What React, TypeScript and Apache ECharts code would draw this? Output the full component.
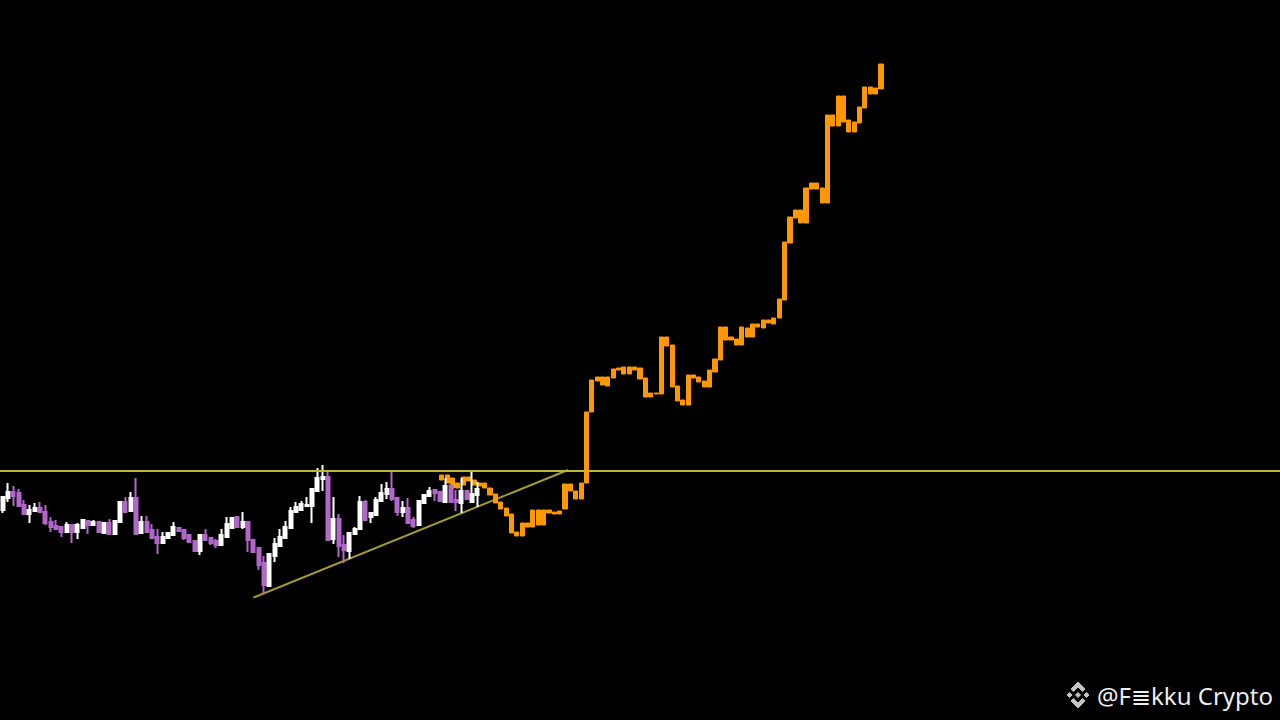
import React, { useEffect, useRef } from "react";
import * as echarts from "echarts";

const barCount = 240;
const projectionBarCount = 239;
const orangeStart = 82;
const resistance = 249.5;
const trendStart = [47, 122.4];
const trendEnd = [106, 250];

const candleOpen = [210,222,228,227,215,206,209,212,208,198,194,193,188,195,188,192,199,195,198,187,197,186,198,218,209,222,187,198,190,183,177,182,185,192,190,185,179,169,185,182,179,175,183,192,203,193,198,180,172,157,134,164,174,182,192,208,210,214,214,229,241,243,181,201,175,169,186,191,218,203,205,219,226,231,222,208,212,200,195,217,224,230,228,218,234,220,217,229,218,225];
const candleClose = [223,228,224,214,206,210,212,208,197,193,191,188,195,188,195,200,195,198,188,197,186,199,218,208,222,186,198,188,182,177,183,187,193,189,182,178,169,185,180,177,175,185,196,202,193,198,180,168,155,135,166,176,183,193,209,213,216,215,231,242,243,180,201,174,170,187,191,218,200,207,220,227,231,221,208,212,197,194,219,225,229,227,219,234,218,218,229,221,226,231];
const candleLow = [207,218,214,213,205,197,208,207,195,188,190,183,188,177,181,192,186,194,188,186,185,186,198,208,209,185,186,188,182,166,177,181,184,189,180,177,169,165,179,175,172,174,183,191,193,191,168,168,150,127,134,158,174,182,192,208,209,213,197,228,229,179,176,163,157,161,185,190,199,197,205,218,221,219,204,203,197,192,195,216,223,219,219,218,218,209,207,220,218,213];
const candleHigh = [223,237,234,231,220,215,217,218,215,203,200,193,198,195,197,201,199,200,199,198,201,199,218,223,228,242,204,204,196,191,188,188,198,192,191,186,179,185,191,183,181,191,203,203,203,208,198,181,173,164,166,182,191,199,213,218,219,223,231,252,255,250,223,206,185,187,193,224,220,207,223,236,238,248,222,219,222,203,219,225,233,231,228,242,237,230,242,230,248,238];

const orangeLow = [240,237,232,232,235,239,235,234,232,225,217,211,204,187,184,184,193,193,195,195,207,206,206,211,229,221,221,237,308,339,335,334,342,350,346,346,350,341,323,323,326,326,374,333,319,315,315,342,338,333,333,348,360,380,380,375,375,383,383,393,392,397,396,402,420,477,502,497,497,531,531,517,517,594,594,598,588,588,597,612,626,626,631];
const orangeHigh = [245,245,242,237,243,243,240,237,237,232,226,218,212,206,188,197,197,210,210,210,210,208,209,236,236,229,237,308,340,343,343,343,351,352,353,353,353,352,342,327,327,383,383,375,334,320,345,345,343,339,350,361,393,393,383,381,393,392,396,396,400,400,402,421,478,503,510,510,532,537,537,532,605,605,624,624,600,598,613,633,633,632,656];

const categories = Array.from({ length: barCount }, (_, i) => String(i));
const projectionCategories = Array.from({ length: projectionBarCount }, (_, i) => String(i));
const blank = ["-", "-", "-", "-"];

const candleData = candleOpen.map((o, i) => [o, candleClose[i], candleLow[i], candleHigh[i]]);
const orangeData = [
  ...Array.from({ length: orangeStart }, () => blank),
  ...orangeLow.map((l, i) => [l, orangeHigh[i], l, orangeHigh[i]]),
];

const LOGO =
  "M13 0L20 7L17.5 9.5L13 5L8.5 9.5L6 7Z M13 26L6 19L8.5 16.5L13 21L17.5 16.5L20 19Z M13 10.5L15.5 13L13 15.5L10.5 13Z M4.5 10.5L7 13L4.5 15.5L2 13Z M21.5 10.5L24 13L21.5 15.5L19 13Z";

echarts.graphic.registerShape("binanceLogo", echarts.graphic.extendPath(LOGO, {}) as any);

const App = () => {
  const ref = useRef<HTMLDivElement>(null);
  useEffect(() => {
    document.body.style.margin = "0";
    document.body.style.background = "#000";
    const chart = echarts.init(ref.current!, null, { renderer: "svg" });
    chart.setOption({
      animation: false,
      backgroundColor: "#000000",
      grid: [
        { left: -1, top: 0, right: 0, bottom: 0, containLabel: false },
        { left: 0, top: 0, right: 0, bottom: 0, containLabel: false },
      ],
      xAxis: [
        { type: "category", data: categories, show: false, boundaryGap: true, gridIndex: 0 },
        { type: "category", data: projectionCategories, show: false, boundaryGap: true, gridIndex: 1 },
      ],
      yAxis: [
        { type: "value", min: 0, max: 720, show: false, gridIndex: 0 },
        { type: "value", min: 0, max: 720, show: false, gridIndex: 1 },
      ],
      tooltip: { show: false },
      series: [
        {
          name: "Levels",
          type: "line",
          z: 1,
          silent: true,
          symbol: "none",
          lineStyle: { color: "#a59a30", width: 2 },
          data: [trendStart, trendEnd],
          markLine: {
            silent: true,
            symbol: "none",
            label: { show: false },
            lineStyle: { color: "#c4b52e", width: 2, type: "solid" },
            data: [{ yAxis: resistance }],
          },
        },
        {
          name: "Projection",
          type: "candlestick",
          xAxisIndex: 1,
          yAxisIndex: 1,
          z: 2,
          barWidth: 4.6,
          itemStyle: { color: "#ff9800", color0: "#ff9800", borderColor: "#ff9800", borderColor0: "#ff9800", borderWidth: 1 },
          data: orangeData,
        },
        {
          name: "Price",
          type: "candlestick",
          z: 3,
          barWidth: 3.5,
          itemStyle: { color: "#ffffff", color0: "#b266cc", borderColor: "#ffffff", borderColor0: "#b266cc", borderWidth: 2 },
          data: candleData,
        },
      ],
      graphic: [
        { type: "binanceLogo", x: 1065, y: 682, style: { fill: "#c4c4c4", stroke: "#c4c4c4", lineWidth: 1 } },
        {
          type: "text",
          x: 1097,
          y: 695.5,
          style: {
            text: "@F≣kku Crypto",
            fill: "#eeeeee",
            font: '24px "Noto Sans"',
            verticalAlign: "middle",
          },
        },
      ],
    });
    return () => chart.dispose();
  }, []);
  return <div ref={ref} style={{ position: "fixed", left: 0, top: 0, width: 1280, height: 720 }} />;
};

export default App;
